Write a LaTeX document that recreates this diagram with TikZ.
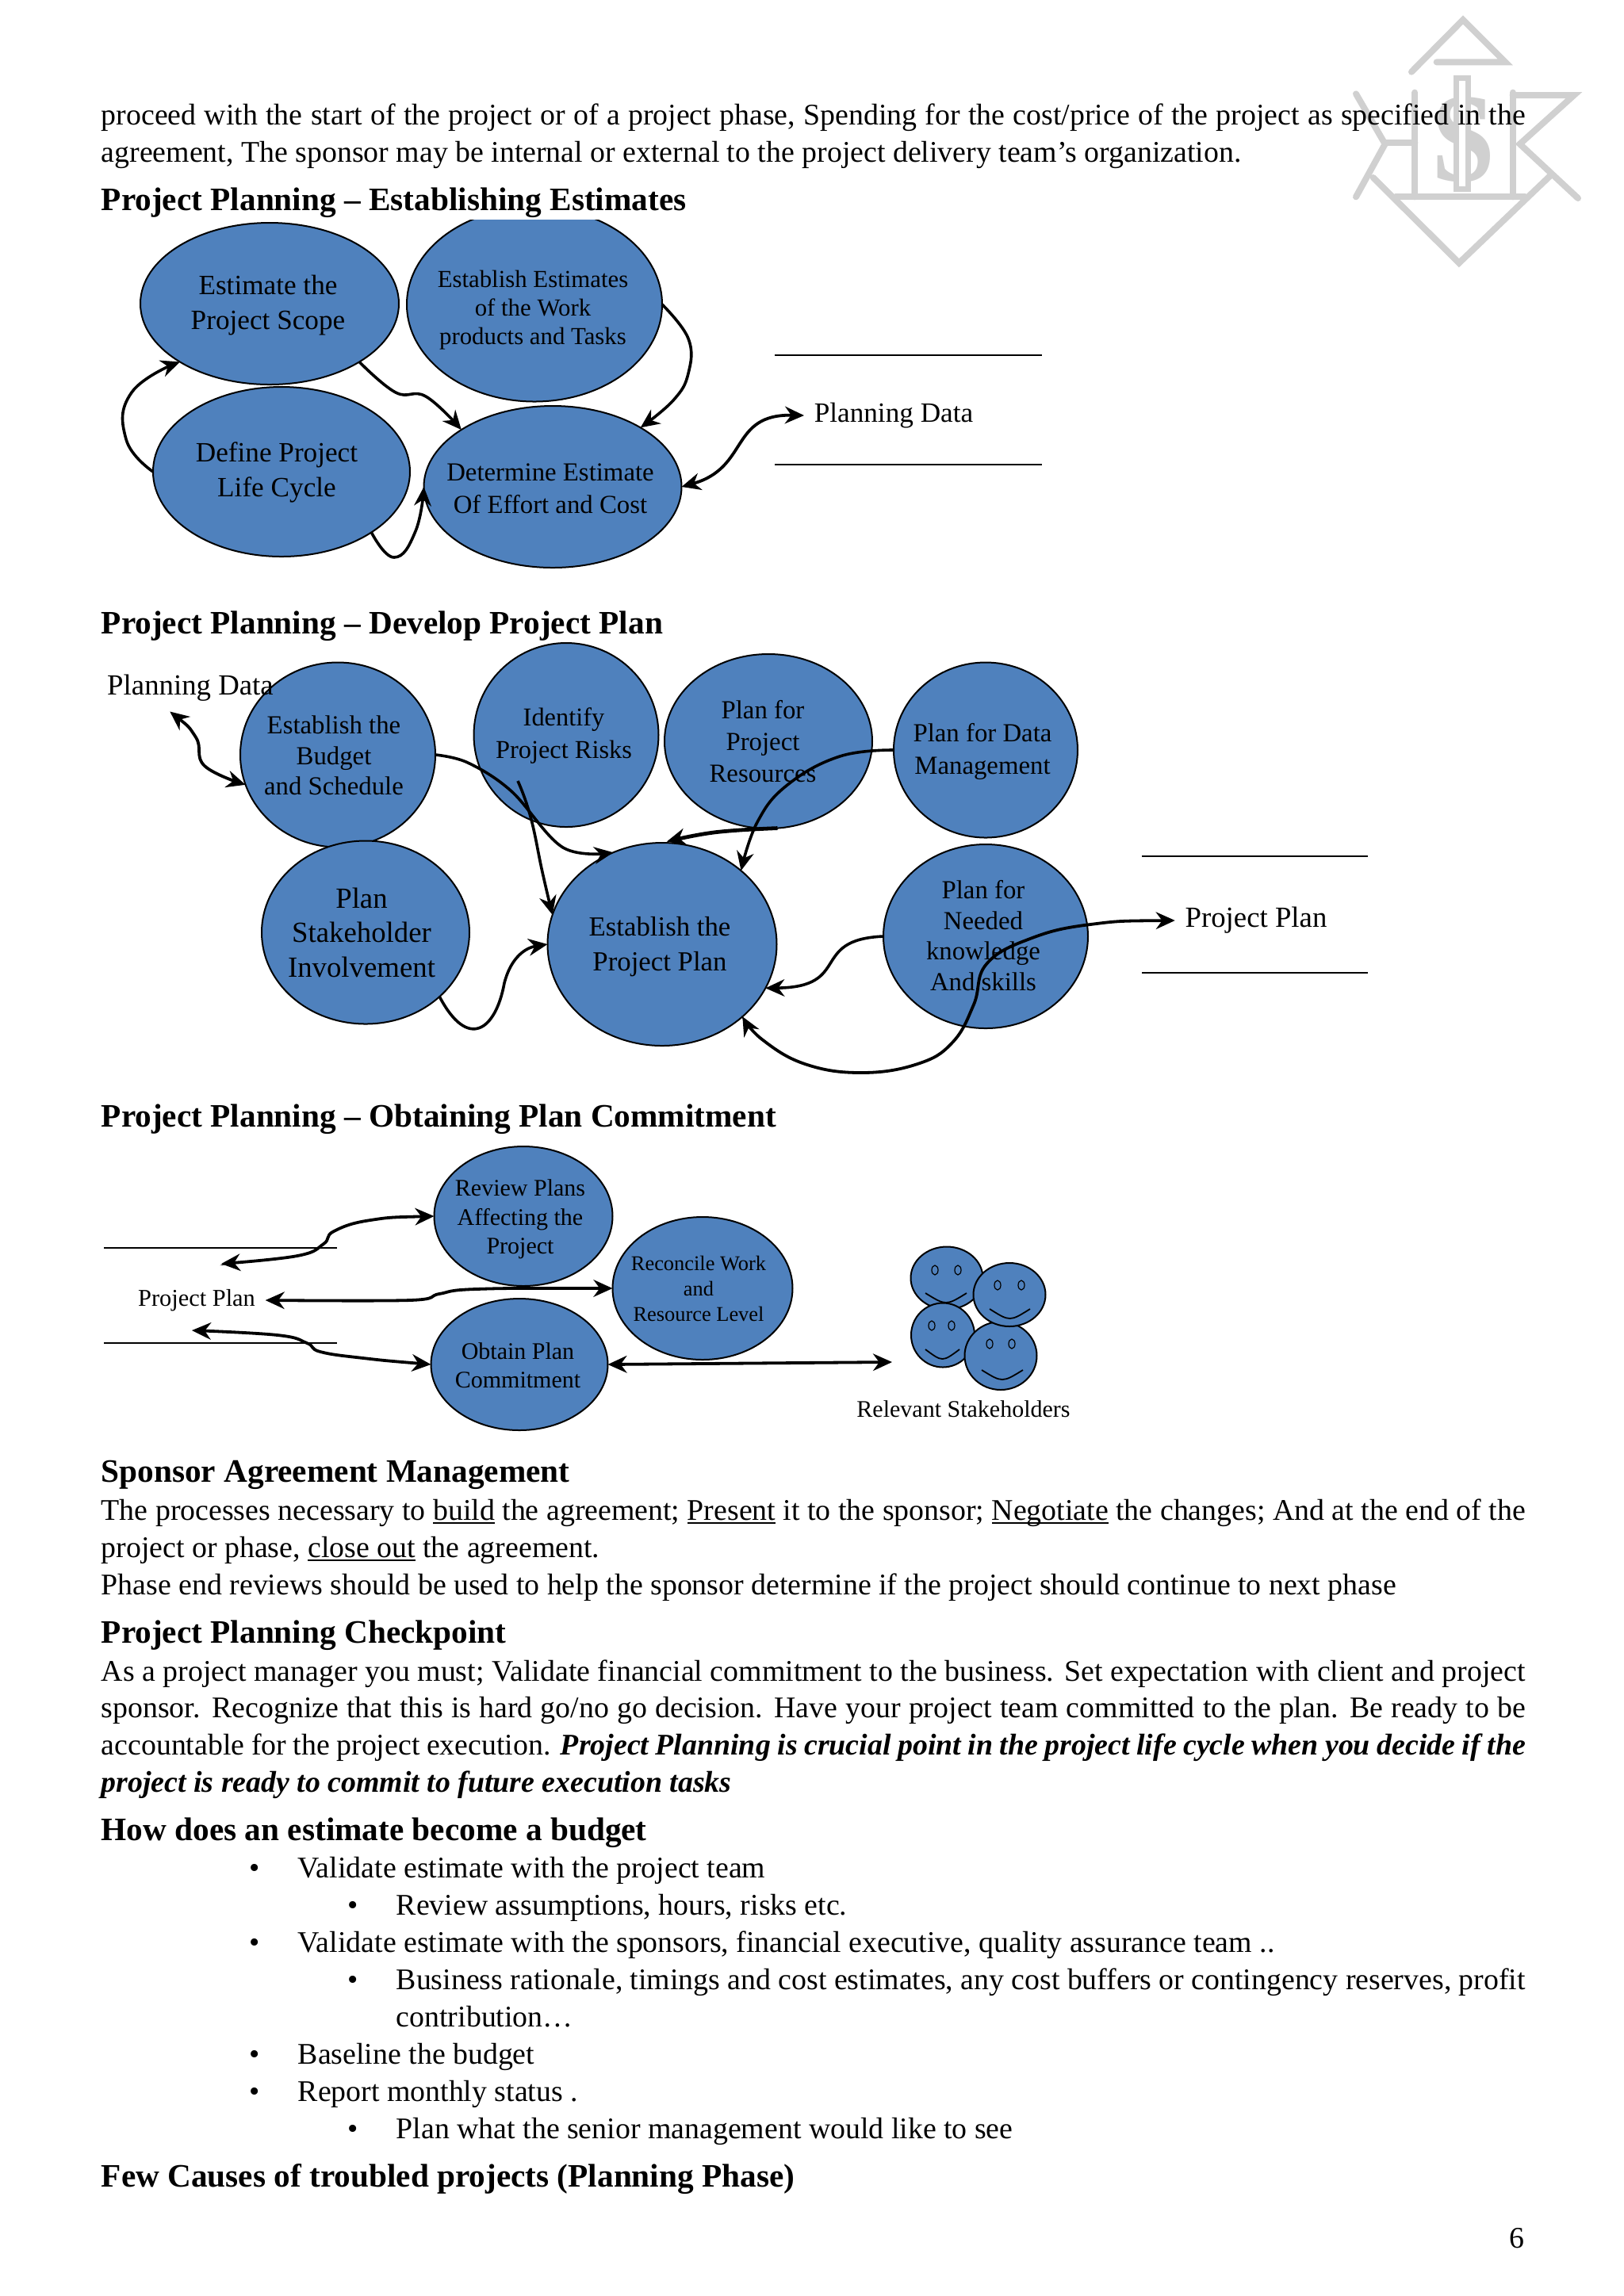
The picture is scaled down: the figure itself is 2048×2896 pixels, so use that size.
\documentclass[tikz,border=0pt]{standalone}
\usepackage{fontspec}
\setmainfont{Liberation Serif}
\usetikzlibrary{arrows.meta,shapes.geometric}
\newcommand{\myfs}[2]{\fontsize{#1}{#2}\selectfont}
\definecolor{ballblue}{HTML}{4F81BD}
\definecolor{logogrey}{HTML}{D0D0D0}
\tikzset{
  ell/.style 2 args={ellipse,draw=black,line width=0.5pt,fill=ballblue,inner sep=0pt,outer sep=0pt,minimum width=#1*0.25pt,minimum height=#2*0.25pt},
  lab/.style 2 args={align=center,inner sep=3pt,font=\myfs{#1}{#2}},
  body/.style={anchor=base west,inner sep=0pt,font=\myfs{9.46}{11}},
  head/.style={anchor=base west,inner sep=0pt,font=\myfs{10.32}{12}\bfseries},
  conn/.style={line width=0.9pt,-{Stealth[length=6pt,width=5.4pt]}},
  dconn/.style={line width=0.95pt,{Stealth[length=6pt,width=5.4pt]}-{Stealth[length=6pt,width=5.4pt]}},
  rulel/.style={line width=0.55pt},
  logo/.style={draw=logogrey,line width=2pt,line cap=round,line join=miter},
  eye/.style={ellipse,draw=black,line width=0.3pt,fill=none,inner sep=0pt,minimum width=2pt,minimum height=3pt},
  smile/.style={line width=0.45pt}
}
\newcommand{\jl}[1]{\makebox[449pt][s]{#1}}
\newcommand{\myul}[1]{\setbox0\hbox{#1}\makebox[0pt][l]{\rule[-1.3pt]{\wd0}{0.5pt}}\box0\relax}
\begin{document}
\begin{tikzpicture}[x=0.25pt,y=-0.25pt]
\useasboundingbox (0,0) rectangle (2048,2896);
\fill[white] (0,0) rectangle (2048,2896);
% ---------- logo (watermark) ----------
\begin{scope}[shift={(1680,0)},x=0.08333pt,y=-0.08333pt]
\draw[logo] (300,272) -- (495,75) -- (655,235) -- (395,235);
\draw[logo] (90,355) -- (200,545) -- (90,745);
\draw[logo] (205,540) -- (313,540);
\draw[logo] (313,350) -- (313,745);
\draw[logo] (683,350) -- (683,745);
\draw[logo] (683,360) -- (915,360) -- (710,545) -- (930,750);
\draw[logo] (155,672) -- (480,995) -- (825,665);
\draw[logo] (240,745) -- (730,745);
\node[inner sep=0pt,text=logogrey,font=\myfs{40}{40}\bfseries,xscale=0.9] (logoS) at (497,530) {S};
\draw[logogrey,line width=1.6pt,fill=white] (470,295) rectangle (515,715);
\end{scope}
% ---------- top text ----------
\node[body] (t1) at (127,157) {\jl{proceed with the start of the project or of a project phase, Spending for the cost/price of the project as specified in the}};
\node[body] (t2) at (127,204) {agreement, The sponsor may be internal or external to the project delivery team’s organization.};
% ---------- diagram 1 ----------
\node[ell={326}{204}] (est) at (340,383) {};
\node[ell={322}{245}] (wrk) at (674,384) {};
\fill[white] (500,250) rectangle (850,277);
\node[ell={324}{214}] (def) at (355,595) {};
\node[ell={325}{204}] (det) at (697,614) {};
\node[head] (h1) at (127,265) {Project Planning – Establishing Estimates};
\node[lab={8.8}{10.9}] (lest) at (338,385) {Estimate the\\Project Scope};
\node[lab={7.7}{9.1}] (lwrk) at (672,391) {Establish Estimates\\of the Work\\products and Tasks};
\node[lab={8.8}{10.9}] (ldef) at (349,596) {Define Project\\Life Cycle};
\node[lab={8.2}{10.2}] (ldet) at (694,616) {Determine Estimate\\Of Effort and Cost};
\node[lab={8.8}{10.5}] (pd1) at (1127,524) {Planning Data};
\coordinate (r1a) at (977,448); \coordinate (r1b) at (1314,448);
\coordinate (r2a) at (977,586); \coordinate (r2b) at (1314,586);
\draw[rulel] (r1a) -- (r1b);
\draw[rulel] (r2a) -- (r2b);
\draw[conn] plot[smooth,tension=.8] coordinates {(def.180) (159,554) (166,495) (est.-147)};
\draw[conn] plot[smooth,tension=.7] coordinates {(est.-33) (499,495) (537,500) (det.148)};
\draw[conn] plot[smooth,tension=.7] coordinates {(wrk.0) (868,427) (868,471) (849,505) (det.34)};
\draw[conn] plot[smooth,tension=.8] coordinates {(def.-34) (497,703) (524,670) (det.180)};
\draw[dconn] (det.0) .. controls (945,590) and (920,522) .. (pd1.west);
% ---------- diagram 2 ----------
\node[head] (h2) at (127,799) {Project Planning – Develop Project Plan};
\node[ell={233}{232}] (rsk) at (714,927) {};
\node[ell={262}{220}] (res) at (969,935) {};
\node[ell={232}{221}] (dat) at (1243,946) {};
\node[ell={246}{233}] (bud) at (426,952) {};
\node[ell={262}{231}] (stk) at (461,1176) {};
\node[ell={289}{256}] (pln) at (835,1191) {};
\node[ell={258}{232}] (ned) at (1243,1181) {};
\node[lab={8.2}{9.6}] (lbud) at (421,953) {Establish the\\Budget\\and Schedule};
\node[lab={8.1}{10.2}] (lrsk) at (711,928) {Identify\\Project Risks};
\node[lab={8.2}{9.9}] (lres) at (962,935) {Plan for\\Project\\Resources};
\node[lab={8.2}{10.2}] (ldat) at (1239,948) {Plan for Data\\Management};
\node[lab={9.2}{10.9}] (lstk) at (456,1176) {Plan\\Stakeholder\\Involvement};
\node[lab={8.7}{10.9}] (lpln) at (832,1194) {Establish the\\Project Plan};
\node[lab={8.2}{9.7}] (lned) at (1240,1180) {Plan for\\Needed\\knowledge\\And skills};
\node[lab={9.2}{11}] (pd2) at (240,868) {Planning Data};
\node[lab={9.2}{11}] (pp2) at (1584,1161) {Project Plan};
\coordinate (r3a) at (1440,1080); \coordinate (r3b) at (1725,1080);
\coordinate (r4a) at (1440,1227); \coordinate (r4b) at (1725,1227);
\draw[rulel] (r3a) -- (r3b);
\draw[rulel] (r4a) -- (r4b);
\coordinate (rskin) at (653,985);
\draw[dconn] plot[smooth,tension=.7] coordinates {(pd2.-131) (247,930) (258,966) (bud.-162)};
\draw[conn] plot[smooth,tension=.6] coordinates {(bud.0) (590,962) (645,998) (710,1069) (pln.118)};
\draw[conn] plot[smooth,tension=.8] coordinates {(rskin) (669,1030) (684,1100) (pln.165)};
\draw[conn,line width=1.2pt,shorten >=1.5pt] plot[smooth,tension=.7] coordinates {(res.-84) (900,1050) (pln.90)};
\draw[conn] plot[smooth,tension=.7] coordinates {(dat.180) (1059,954) (993,990) (955,1037) (pln.43.5)};
\draw[conn] (stk.-41) .. controls (590,1325) and (625,1300) .. (636,1240) .. controls (645,1205) and (665,1195) .. (pln.180);
\draw[conn] (ned.180) .. controls (1020,1185) and (1075,1245) .. (pln.-23.6);
\draw[dconn] plot[smooth,tension=.7] coordinates {(pp2.west) (1375,1166) (1299,1184) (1244,1216) (1228,1267) (1201,1315) (1157,1342) (1086,1353) (1015,1342) (961,1311) (pln.-42)};
% ---------- diagram 3 ----------
\node[head] (h3) at (127,1421) {Project Planning – Obtaining Plan Commitment};
\node[ell={225}{176}] (rev) at (660,1534) {};
\node[ell={227}{180}] (rec) at (886,1625) {};
\node[ell={223}{166}] (obt) at (655,1721) {};
\node[lab={7.5}{9.1}] (lrev) at (656,1538) {Review Plans\\Affecting the\\Project};
\node[lab={6.6}{8}] (lrec) at (881,1625) {Reconcile Work\\and\\Resource Level};
\node[lab={7.5}{9.1}] (lobt) at (653,1722) {Obtain Plan\\Commitment};
\node[lab={7.6}{9}] (pp3) at (248,1640) {Project Plan};
\node[lab={7.5}{9},inner sep=0pt] (rs) at (1215,1777) {Relevant Stakeholders};
\foreach \n/\cx/\cy/\rw/\rh/\sx/\sy/\sw in {
  fa/1194/1612/91/79/1167/1631/52,
  fc/1189/1684/80/81/1167/1702/43,
  fd/1262/1710/91/86/1238/1728/52,
  fb/1273/1633/91/80/1248/1651/51} {
  \node[ell={\rw}{\rh}] (\n) at (\cx,\cy) {};
  \coordinate (\n l) at (\sx,\sy);
  \coordinate (\n r) at (\sx+\sw,\sy);
  \coordinate (\n m) at (\sx+0.5*\sw,\sy+16);
  \draw[smile] (\n l) .. controls (\n m) .. (\n r);
}
\node[eye] (fae1) at (1179,1602) {}; \node[eye] (fae2) at (1208,1602) {};
\node[eye] (fbe1) at (1258,1621) {}; \node[eye] (fbe2) at (1288,1621) {};
\node[eye] (fce1) at (1175,1672) {}; \node[eye] (fce2) at (1200,1672) {};
\node[eye] (fde1) at (1248,1695) {}; \node[eye] (fde2) at (1276,1695) {};
\coordinate (r5a) at (131,1574); \coordinate (r5b) at (425,1574);
\coordinate (r6a) at (131,1694); \coordinate (r6b) at (425,1694);
\draw[rulel] (r5a) -- (r5b);
\draw[rulel] (r6a) -- (r6b);
\coordinate (fr1) at (279,1594);
\coordinate (fr2) at (242,1678);
\coordinate (fr3) at (1125,1718);
\draw[dconn] plot[smooth,tension=.7] coordinates {(rev.180) (467,1539) (421,1553) (408,1569) (375,1584) (fr1)};
\draw[dconn] plot[smooth,tension=.6] coordinates {(rec.180) (600,1626) (554,1632) (517,1640) (pp3.east)};
\draw[dconn] plot[smooth,tension=.7] coordinates {(obt.180) (458,1713) (404,1705) (387,1694) (350,1684) (fr2)};
\draw[dconn] (obt.0) -- (fr3);
% ---------- lower text ----------
\node[head] (h4) at (127,1869) {Sponsor Agreement Management};
\node[body] (t3) at (127,1917) {\jl{The processes necessary to \myul{build} the agreement; \myul{Present} it to the sponsor; \myul{Negotiate} the changes; And at the end of the}};
\node[body] (t4) at (127,1964) {project or phase, \myul{close out} the agreement.};
\node[body] (t5) at (127,2011) {Phase end reviews should be used to help the sponsor determine if the project should continue to next phase};
\node[head] (h5) at (127,2072) {Project Planning Checkpoint};
\node[body] (t6) at (127,2120) {\jl{As a project manager you must; Validate financial commitment to the business. Set expectation with client and project}};
\node[body] (t7) at (127,2166) {\jl{sponsor. Recognize that this is hard go/no go decision. Have your project team committed to the plan. Be ready to be}};
\node[body] (t8) at (127,2213) {\jl{accountable for the project execution. {\bfseries\itshape Project Planning is crucial point in the project life cycle when you decide if the}}};
\node[body] (t9) at (127,2260) {{\bfseries\itshape project is ready to commit to future execution tasks}};
\node[head] (h6) at (127,2321) {How does an estimate become a budget};
\foreach \nm/\y in {b1/2368,b3/2462,b6/2603,b7/2650}
  \node[body] (\nm) at (314,\y) {•};
\foreach \nm/\y in {b2/2415,b4/2509,b8/2697}
  \node[body] (\nm) at (438,\y) {•};
\node[body] (u1) at (375,2368) {Validate estimate with the project team};
\node[body] (u2) at (499,2415) {Review assumptions, hours, risks etc.};
\node[body] (u3) at (375,2462) {Validate estimate with the sponsors, financial executive, quality assurance team ..};
\node[body] (u4) at (499,2509) {\makebox[356pt][s]{Business rationale, timings and cost estimates, any cost buffers or contingency reserves, profit}};
\node[body] (u5) at (499,2556) {contribution…};
\node[body] (u6) at (375,2603) {Baseline the budget};
\node[body] (u7) at (375,2650) {Report monthly status .};
\node[body] (u8) at (499,2697) {Plan what the senior management would like to see};
\node[head] (h7) at (127,2758) {Few Causes of troubled projects (Planning Phase)};
\node[body,anchor=base east] (pg) at (1923,2835) {6};
\end{tikzpicture}
\end{document}
